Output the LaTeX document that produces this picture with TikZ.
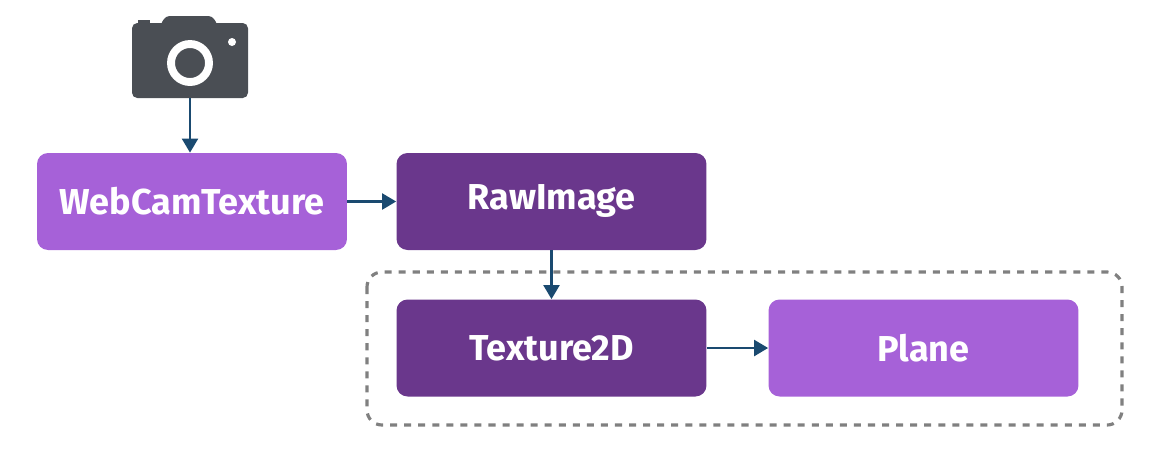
\documentclass[tikz,border=0pt]{standalone}
\usepackage{fontspec}
\setmainfont{Fira Sans}
\usetikzlibrary{arrows.meta}
\definecolor{light}{HTML}{A661D8}
\definecolor{dark}{HTML}{6A378C}
\definecolor{arr}{HTML}{1A4A70}
\definecolor{cam}{HTML}{4A4E54}
\begin{document}
\begin{tikzpicture}[x=0.02cm,y=-0.02cm,
 box/.style={rounded corners=0.22cm,draw=none,text=white,font=\fontsize{20.5}{24}\selectfont\bfseries,minimum width=6.2cm,minimum height=1.94cm,inner sep=0},
 con/.style={draw=arr,line width=1.6pt,-{Triangle[length=8pt,width=9pt]}}]
\useasboundingbox (0,0) rectangle (1152,468);
\draw[gray,line width=1.8pt,dash pattern=on 4pt off 4pt,rounded corners=0.3cm] (367,272) rectangle (1122,425);
\node[box,fill=light] (w) at (192,201.5) {WebCamTexture};
\node[box,fill=dark] (r) at (551.5,201.5) {RawImage};
\node[box,fill=dark] (t) at (551.5,348) {Texture2D};
\node[box,fill=light] (p) at (923.5,348) {Plane};
% camera
\fill[cam,rounded corners=2pt] (160,25) -- (166,16) -- (212,16) -- (218,25) -- cycle;
\fill[cam,rounded corners=3pt] (132,23) rectangle (248,98);
\fill[cam] (138,20) rectangle (150,25);
\coordinate (c) at (190,98);
\draw[white,line width=4.5pt] (190,63) circle (19);
\fill[white] (232,42) circle (4);
\draw[con] (c) -- (c |- w.north);
\draw[con] (w.east) -- (r.west);
\draw[con] (r.south) -- (t.north);
\draw[con] (t.east) -- (p.west);
\end{tikzpicture}
\end{document}
